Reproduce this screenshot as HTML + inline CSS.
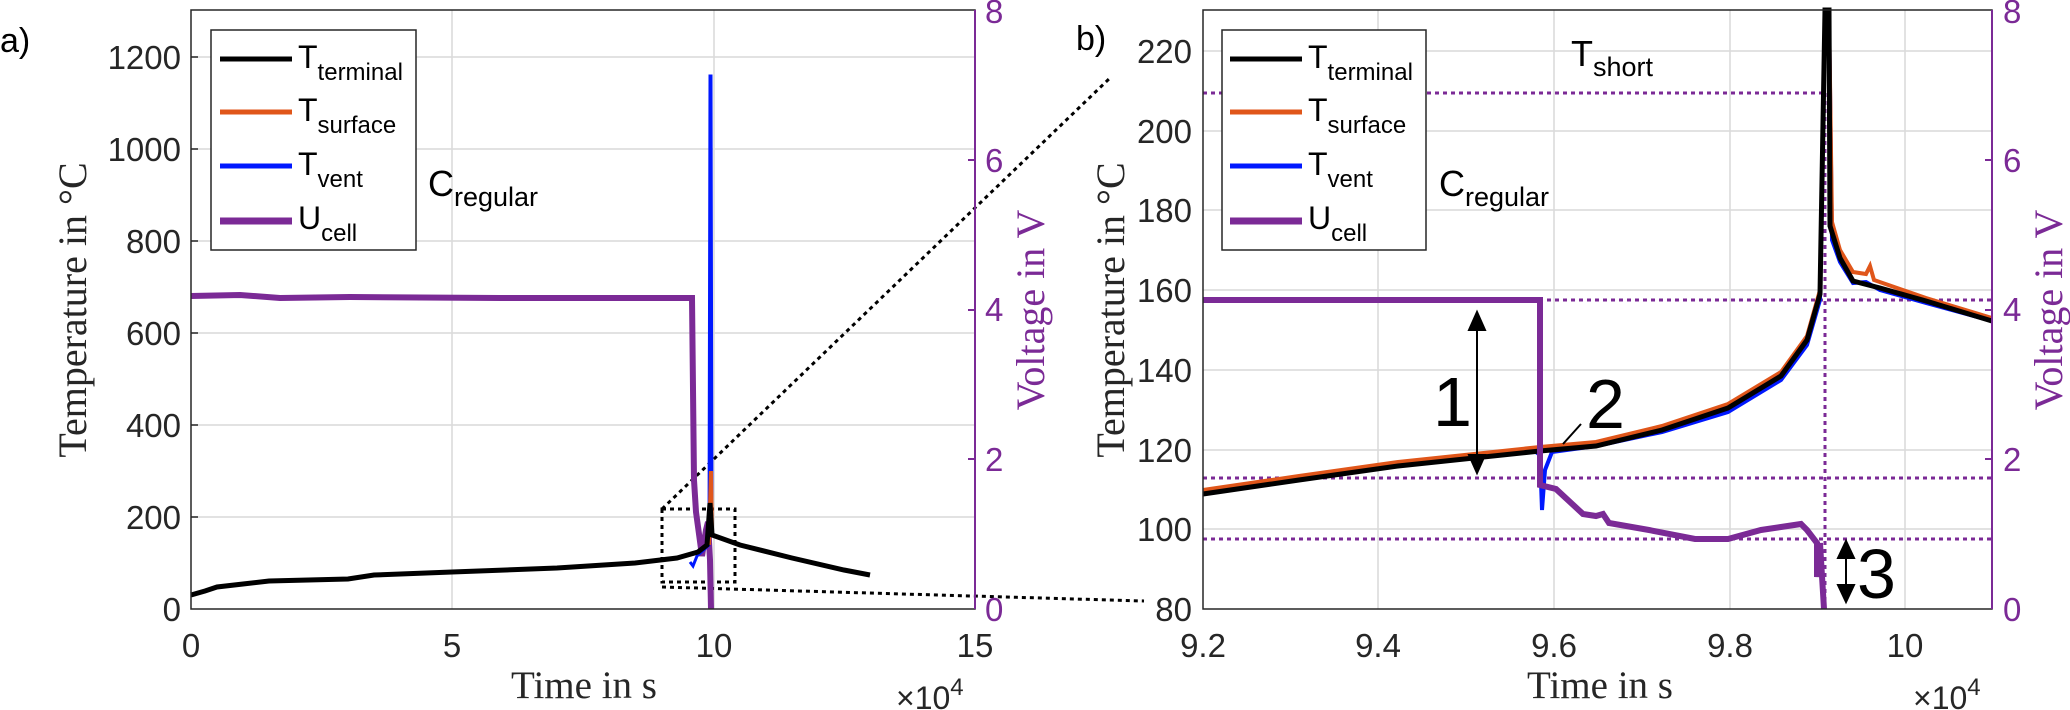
<!DOCTYPE html>
<html><head><meta charset="utf-8"><style>
html,body{margin:0;padding:0;background:#fff}
svg{display:block}
.t{font-family:"Liberation Sans",Arial,sans-serif}
.s{font-family:"Liberation Serif","DejaVu Serif",serif}
</style></head><body>
<svg width="2070" height="710" viewBox="0 0 2070 710" xmlns="http://www.w3.org/2000/svg">
<!-- ===== Panel a ===== -->
<g stroke="#d9d9d9" stroke-width="1.5">
<line x1="452" y1="10" x2="452" y2="609"/><line x1="714" y1="10" x2="714" y2="609"/>
<line x1="191" y1="517" x2="975" y2="517"/><line x1="191" y1="425" x2="975" y2="425"/>
<line x1="191" y1="333" x2="975" y2="333"/><line x1="191" y1="241" x2="975" y2="241"/>
<line x1="191" y1="149" x2="975" y2="149"/><line x1="191" y1="57" x2="975" y2="57"/>
</g>
<g stroke="#000" stroke-width="3" stroke-dasharray="4,4" fill="none">
<rect x="662" y="509" width="73" height="73"/>
<line x1="662" y1="509" x2="1111" y2="77"/>
<line x1="662" y1="587" x2="1144" y2="601"/>
</g>
<polyline fill="none" stroke="#7b2a96" stroke-width="6" points="191,296 240,295 280,298 350,297 500,298 692,298 694,480 696,512 702,556 706,530 708,522 710,560 711,609"/>
<polyline fill="none" stroke="#0018ff" stroke-width="3" points="690,562 693,566 697,556 709,545 710,76 711,76 712,530"/>
<polyline fill="none" stroke="#e0561a" stroke-width="4" points="709,545 711,471 712,535"/>
<polyline fill="none" stroke="#000" stroke-width="5" points="191,595 205,591 217,587 243,584 269,581 348,579 374,575 452,572 557,568 635,563 677,558 698,552 707,545 710,503 712,535 740,545 792,558 844,570 870,575"/>
<rect x="191" y="10" width="784" height="599" fill="none" stroke="#262626" stroke-width="1.5"/>
<line x1="975" y1="10" x2="975" y2="609" stroke="#7b2a96" stroke-width="2"/>
<g stroke="#262626" stroke-width="1.5">
<line x1="191" y1="517" x2="198" y2="517"/><line x1="191" y1="425" x2="198" y2="425"/><line x1="191" y1="333" x2="198" y2="333"/><line x1="191" y1="241" x2="198" y2="241"/><line x1="191" y1="149" x2="198" y2="149"/><line x1="191" y1="57" x2="198" y2="57"/>
</g>
<g stroke="#7b2a96" stroke-width="2">
<line x1="968" y1="459" x2="975" y2="459"/><line x1="968" y1="310" x2="975" y2="310"/><line x1="968" y1="160" x2="975" y2="160"/>
</g>
<g class="t" font-size="33" fill="#262626" text-anchor="end">
<text x="181" y="621">0</text><text x="181" y="529">200</text><text x="181" y="437">400</text><text x="181" y="345">600</text><text x="181" y="253">800</text><text x="181" y="161">1000</text><text x="181" y="69">1200</text>
</g>
<g class="t" font-size="33" fill="#262626" text-anchor="middle">
<text x="191" y="657">0</text><text x="452" y="657">5</text><text x="714" y="657">10</text><text x="975" y="657">15</text>
</g>
<g class="t" font-size="33" fill="#7b2a96">
<text x="985" y="621">0</text><text x="985" y="471">2</text><text x="985" y="321">4</text><text x="985" y="172">6</text><text x="985" y="23">8</text>
</g>
<text class="t" font-size="32" fill="#262626" x="896" y="709">×10<tspan font-size="24" dy="-14">4</tspan></text>
<text class="s" font-size="39" fill="#262626" x="584" y="698" text-anchor="middle">Time in s</text>
<text class="s" font-size="40" fill="#262626" transform="translate(86,310) rotate(-90)" text-anchor="middle">Temperature in °C</text>
<text class="s" font-size="40" fill="#7b2a96" transform="translate(1044,310) rotate(-90)" text-anchor="middle">Voltage in V</text>
<text class="t" font-size="34" x="0" y="52" fill="#000">a)</text>
<rect x="211" y="30" width="205" height="220" fill="#fff" stroke="#262626" stroke-width="1.5"/>
<g stroke-width="5"><line x1="220" y1="59" x2="292" y2="59" stroke="#000"/><line x1="220" y1="112" x2="292" y2="112" stroke="#e0561a"/><line x1="220" y1="166" x2="292" y2="166" stroke="#0018ff"/><line x1="220" y1="221" x2="292" y2="221" stroke="#7b2a96" stroke-width="7"/></g>
<g class="t" font-size="32" fill="#000">
<text x="298" y="68">T<tspan font-size="24" dy="12">terminal</tspan></text>
<text x="298" y="121">T<tspan font-size="24" dy="12">surface</tspan></text>
<text x="298" y="175">T<tspan font-size="24" dy="12">vent</tspan></text>
<text x="298" y="229">U<tspan font-size="24" dy="12">cell</tspan></text>
</g>
<text class="t" font-size="36" x="428" y="196" fill="#000">C<tspan font-size="27" dy="10">regular</tspan></text>

<!-- ===== Panel b ===== -->
<g stroke="#d9d9d9" stroke-width="1.5">
<line x1="1378" y1="10" x2="1378" y2="609"/><line x1="1554" y1="10" x2="1554" y2="609"/><line x1="1730" y1="10" x2="1730" y2="609"/><line x1="1905" y1="10" x2="1905" y2="609"/>
<line x1="1203" y1="529" x2="1992" y2="529"/><line x1="1203" y1="450" x2="1992" y2="450"/><line x1="1203" y1="370" x2="1992" y2="370"/><line x1="1203" y1="290" x2="1992" y2="290"/><line x1="1203" y1="210" x2="1992" y2="210"/><line x1="1203" y1="131" x2="1992" y2="131"/><line x1="1203" y1="51" x2="1992" y2="51"/>
</g>
<g stroke="#7b2a96" stroke-width="3" stroke-dasharray="4,4" fill="none">
<line x1="1203" y1="93" x2="1825" y2="93"/>
<line x1="1203" y1="300" x2="1992" y2="300"/>
<line x1="1203" y1="478" x2="1992" y2="478"/>
<line x1="1203" y1="539" x2="1992" y2="539"/>
<line x1="1825" y1="93" x2="1825" y2="609"/>
</g>
<polyline fill="none" stroke="#0018ff" stroke-width="4" points="1536,452 1540,455 1542,510 1545,470 1552,452 1596,446 1662,432 1728,412 1781,380 1807,345 1820,300 1825,10 1829,10 1832,240 1840,262 1853,283 1866,282 1880,290 1926,303 1992,321"/>
<polyline fill="none" stroke="#e0561a" stroke-width="4" points="1203,490 1299,476 1398,462 1540,447 1596,442 1662,426 1728,404 1781,372 1807,336 1820,290 1825,10 1829,10 1832,222 1840,250 1853,272 1866,274 1870,266 1874,280 1926,298 1992,318"/>
<polyline fill="none" stroke="#000" stroke-width="5" points="1203,494 1299,480 1398,466 1540,451 1596,446 1662,430 1728,408 1781,376 1807,340 1820,294 1825,10 1829,10 1830,226 1840,258 1853,281 1880,288 1926,301 1992,321"/>
<polyline fill="none" stroke="#7b2a96" stroke-width="6" points="1203,300 1540,300 1540,485 1556,489 1583,514 1596,516 1603,514 1609,523 1649,530 1695,539 1728,539 1761,530 1801,524 1807,530 1817,543 1817,577 1820,543 1824,609"/>
<g stroke="#000" stroke-width="2" fill="#000">
<line x1="1477" y1="325" x2="1477" y2="460"/>
<polygon points="1477,312 1469,330 1485,330"/><polygon points="1477,473 1469,455 1485,455"/>
<line x1="1563" y1="444" x2="1581" y2="424"/>
<line x1="1846" y1="552" x2="1846" y2="592"/>
<polygon points="1846,541 1838,558 1854,558"/><polygon points="1846,602 1838,585 1854,585"/>
</g>
<g class="t" fill="#000" font-size="70">
<text x="1433" y="426">1</text><text x="1586" y="428">2</text><text x="1857" y="598">3</text>
</g>
<text class="t" font-size="36" x="1571" y="66" fill="#000">T<tspan font-size="27" dy="10">short</tspan></text>
<rect x="1203" y="10" width="789" height="599" fill="none" stroke="#262626" stroke-width="1.5"/>
<line x1="1992" y1="10" x2="1992" y2="609" stroke="#7b2a96" stroke-width="2"/>
<g stroke="#7b2a96" stroke-width="2">
<line x1="1985" y1="459" x2="1992" y2="459"/><line x1="1985" y1="310" x2="1992" y2="310"/><line x1="1985" y1="160" x2="1992" y2="160"/>
</g>
<g class="t" font-size="33" fill="#262626" text-anchor="end">
<text x="1192" y="621">80</text><text x="1192" y="541">100</text><text x="1192" y="462">120</text><text x="1192" y="382">140</text><text x="1192" y="302">160</text><text x="1192" y="222">180</text><text x="1192" y="143">200</text><text x="1192" y="63">220</text>
</g>
<g class="t" font-size="33" fill="#262626" text-anchor="middle">
<text x="1203" y="657">9.2</text><text x="1378" y="657">9.4</text><text x="1554" y="657">9.6</text><text x="1730" y="657">9.8</text><text x="1905" y="657">10</text>
</g>
<g class="t" font-size="33" fill="#7b2a96">
<text x="2003" y="621">0</text><text x="2003" y="471">2</text><text x="2003" y="321">4</text><text x="2003" y="172">6</text><text x="2003" y="23">8</text>
</g>
<text class="t" font-size="32" fill="#262626" x="1913" y="709">×10<tspan font-size="24" dy="-14">4</tspan></text>
<text class="s" font-size="39" fill="#262626" x="1600" y="698" text-anchor="middle">Time in s</text>
<text class="s" font-size="40" fill="#262626" transform="translate(1124,310) rotate(-90)" text-anchor="middle">Temperature in °C</text>
<text class="s" font-size="40" fill="#7b2a96" transform="translate(2062,310) rotate(-90)" text-anchor="middle">Voltage in V</text>
<text class="t" font-size="34" x="1076" y="50" fill="#000">b)</text>
<rect x="1222" y="30" width="204" height="220" fill="#fff" stroke="#262626" stroke-width="1.5"/>
<g stroke-width="5"><line x1="1230" y1="59" x2="1302" y2="59" stroke="#000"/><line x1="1230" y1="112" x2="1302" y2="112" stroke="#e0561a"/><line x1="1230" y1="166" x2="1302" y2="166" stroke="#0018ff"/><line x1="1230" y1="221" x2="1302" y2="221" stroke="#7b2a96" stroke-width="7"/></g>
<g class="t" font-size="32" fill="#000">
<text x="1308" y="68">T<tspan font-size="24" dy="12">terminal</tspan></text>
<text x="1308" y="121">T<tspan font-size="24" dy="12">surface</tspan></text>
<text x="1308" y="175">T<tspan font-size="24" dy="12">vent</tspan></text>
<text x="1308" y="229">U<tspan font-size="24" dy="12">cell</tspan></text>
</g>
<text class="t" font-size="36" x="1439" y="196" fill="#000">C<tspan font-size="27" dy="10">regular</tspan></text>
</svg>
</body></html>
